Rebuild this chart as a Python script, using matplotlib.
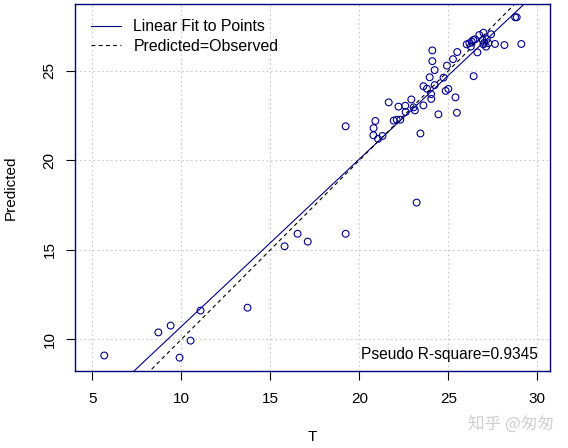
import numpy as np
import matplotlib
matplotlib.use("Agg")
import matplotlib.pyplot as plt

plt.rcParams["font.family"] = ["Liberation Sans", "DejaVu Sans"]

# Observed T vs predicted values
T = [5.67, 8.71, 9.40, 9.90, 10.52, 11.08, 13.72,
     15.80, 16.53, 17.10, 19.23, 19.23, 23.22,
     20.79, 20.80, 20.90, 21.05, 21.30, 21.65,
     21.93, 22.10, 22.30, 22.20, 22.58, 22.60,
     22.92, 23.05, 23.12, 23.43, 23.60, 23.60,
     23.80, 23.95, 24.03, 24.04, 24.23, 24.23,
     24.10, 24.10, 24.44, 24.73, 24.92, 24.85,
     25.00, 25.26, 25.50, 25.40, 25.48, 26.42,
     26.03, 26.18, 26.31, 26.40, 26.50, 26.26, 26.63,
     26.74, 26.97, 26.93, 26.97, 27.12, 27.02, 27.25,
     27.16, 27.40, 27.62, 28.15, 29.10, 28.75, 28.84]
predicted = [9.10, 10.39, 10.77, 8.98, 9.93, 11.61, 11.77,
             15.20, 15.90, 15.46, 15.90, 21.90, 17.64,
             21.40, 21.80, 22.20, 21.20, 21.36, 23.24,
             22.22, 22.27, 22.27, 23.00, 23.05, 22.70,
             23.40, 22.96, 22.79, 21.50, 23.07, 24.14,
             24.00, 24.64, 23.70, 23.43, 24.20, 25.04,
             25.54, 26.14, 22.57, 24.62, 25.29, 23.88,
             23.99, 25.65, 26.05, 23.52, 22.66, 24.70,
             26.48, 26.54, 26.63, 26.72, 26.76, 26.35, 26.03,
             27.00, 27.13, 26.72, 26.48, 26.35, 26.57, 26.54,
             26.76, 27.04, 26.50, 26.44, 26.50, 27.99, 27.99]

fit_intercept = 1.37
fit_slope = 0.935
r_square = 0.9345

x_ticks = [5, 10, 15, 20, 25, 30]
y_ticks = [10, 15, 20, 25]

navy = "#000080"

fig = plt.figure(figsize=(5.68, 4.48), dpi=100)
ax = fig.add_axes([0.1326, 0.1725, 0.8357, 0.8185])
ax.set_xlim(4.045, 30.71)
ax.set_ylim(8.25, 28.73)

ax.set_xticks(x_ticks)
ax.set_yticks(y_ticks)
ax.grid(True, color="#c8c8c8", linestyle=(0, (1.5, 2.5)), linewidth=0.8)
ax.set_axisbelow(True)

for s in ax.spines.values():
    s.set_color(navy)
    s.set_linewidth(1.0)

ax.tick_params(length=6.5, width=0.8, color="black", labelsize=11, pad=9)
ax.tick_params(axis="y", labelrotation=90, pad=7)
for lab in ax.get_yticklabels():
    lab.set_va("center")

ax.scatter(T, predicted, s=24, facecolors="none", edgecolors="#00008B",
           linewidths=0.8, zorder=3)

xs = np.array(ax.get_xlim())
ax.plot(xs, fit_intercept + fit_slope * xs, color=navy, linewidth=0.8,
        label="Linear Fit to Points")
ax.plot(xs, xs, color="black", linewidth=0.8, linestyle=(0, (3.5, 3)),
        label="Predicted=Observed")

ax.legend(loc="upper left", bbox_to_anchor=(0.032, 0.958), frameon=False,
          borderpad=0, borderaxespad=0, fontsize=11.4, handlelength=1.9,
          handletextpad=0.8, labelspacing=0.27)

ax.text(30.04, 9.18, "Pseudo R-square=%.4f" % r_square, ha="right",
        va="center", fontsize=11.2)

ax.set_xlabel("T", fontsize=11, labelpad=17)
ax.set_ylabel("Predicted", fontsize=11, labelpad=18)

fig.text(0.975, 0.053, "知乎 @匆匆", ha="right", va="center", fontsize=12,
         color="#cfcfcf", family=["Noto Sans CJK SC", "DejaVu Sans"])

fig.savefig("out.png", dpi=100)
